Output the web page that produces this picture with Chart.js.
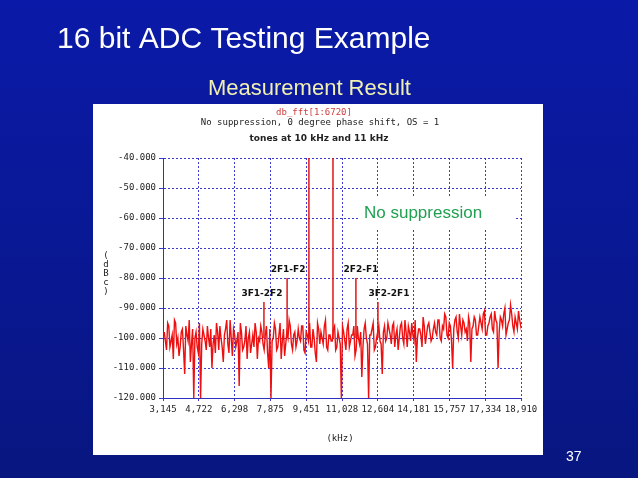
<!DOCTYPE html>
<html><head><meta charset="utf-8">
<script src="https://cdn.jsdelivr.net/npm/chart.js@4/dist/chart.umd.min.js"></script>
<style>html,body{margin:0;padding:0;background:#0a1a9a}#c{display:block}</style>
</head><body>
<div style="width:638px;height:478px"><canvas id="c" width="638" height="478"></canvas></div>
<script>
// noise floor, one value per 0.1 kHz from 3.2 kHz
var noiseStart = 3.2, noiseStep = 0.1;
var noise = [
 -98,-104,-96,-101,-107,-95,-100,-103,-97,-112,-99,-94,-102,-120,-98,-105,-120,-97,-101,
 -96,-103,-110,-99,-95,-104,-100,-108,-97,-102,-94,-106,-99,-101,-116,-98,-103,-96,-100,-105,
 -99,-95,-107,-101,-98,-104,-96,-110,-120,-100,-97,-103,-95,-101,-106,-98,-94,-102,-99,-103,
 -97,-101,-96,-105,-99,-95,-103,-100,-108,-97,-98,-102,-94,-104,-99,-101,-96,-103,-100,-120,
 -98,-104,-95,-101,-99,-106,-96,-102,-113,-97,-100,-120,-99,-95,-103,-98,-101,-112,-96,-100,
 -97,-102,-95,-99,-104,-96,-100,-94,-103,-98,-95,-101,-108,-97,-99,-93,-102,-96,-98,-100,
 -95,-99,-94,-101,-97,-93,-100,-96,-110,-94,-98,-92,-99,-95,-97,-93,-108,-96,-94,-99,
 -93,-97,-91,-99,-95,-92,-98,-94,-110,-93,-96,-90,-97,-94,-92,-98,-95,-91,-96
];
// second noise pass, offset half a step
var noise2 = [
 -101,-95,-103,-99,-94,-102,-106,-98,-104,-96,-101,-108,-97,-100,-103,-95,-102,-99,-104,
 -100,-97,-102,-105,-98,-96,-103,-99,-94,-105,-100,-97,-103,-98,-95,-104,-101,-107,-98,-102,
 -103,-98,-100,-96,-102,-99,-105,-97,-101,-95,-104,-99,-107,-97,-102,-100,-96,-104,-98,-101,
 -100,-96,-104,-98,-101,-103,-97,-105,-95,-102,-100,-96,-103,-99,-101,-97,-104,-98,-102,-96,
 -101,-97,-103,-99,-96,-104,-100,-98,-103,-95,-102,-99,-97,-104,-100,-96,-102,-98,-101,-95,
 -99,-96,-103,-97,-100,-95,-102,-98,-96,-101,-99,-94,-100,-97,-103,-96,-99,-95,-101,-97,
 -98,-94,-100,-96,-92,-99,-95,-101,-97,-93,-100,-96,-94,-98,-101,-95,-97,-93,-99,-96,
 -95,-92,-99,-96,-93,-97,-91,-95,-98,-94,-92,-99,-95,-89,-96,-93,-97,-94,-98
];
// tones and intermod products (kHz on the plot scale, dBc)
var spikeFreq = [9.57, 10.63, 8.61, 11.64, 7.59, 12.61];
var spikeLevel = [-40, -40, -80, -80, -88, -88];
var spikeNames = ['', '', '2F1-F2', '2F2-F1', '3F1-2F2', '3F2-2F1'];
var labelShift = [0, 0, 1, 5, -2, 11];
var xTicks = [3.145, 4.722, 6.298, 7.875, 9.451, 11.028, 12.604, 14.181, 15.757, 17.334, 18.910];
var yTicks = [-40, -50, -60, -70, -80, -90, -100, -110, -120];

var noisePts = [];
noise.forEach(function(v, i) {
  noisePts.push({x: noiseStart + i * noiseStep, y: v});
  noisePts.push({x: noiseStart + (i + 0.5) * noiseStep, y: noise2[i]});
});
var spikePts = [];
spikeFreq.forEach(function(f, i) {
  spikePts.push({x: f, y: -100}, {x: f, y: spikeLevel[i]}, {x: f, y: null});
});

var slide = {
  id: 'slide',
  beforeDraw: function(chart) {
    var c = chart.ctx;
    var g = c.createLinearGradient(0, 0, 0, 478);
    g.addColorStop(0, '#0a1aa8'); g.addColorStop(1, '#081680');
    c.fillStyle = g; c.fillRect(0, 0, 638, 478);
    c.fillStyle = '#fff'; c.fillRect(93, 104, 450, 351);
    c.font = '30px "Liberation Sans", Arial'; c.fillStyle = '#fff'; c.textBaseline = 'middle';
    c.fillText('16 bit ADC Testing Example', 57, 40);
    c.font = '22px "Liberation Sans", Arial'; c.fillStyle = '#f0f0b0';
    c.fillText('Measurement Result', 208, 89);
    c.font = '14px "Liberation Sans", Arial'; c.fillStyle = '#fff';
    c.fillText('37', 566, 457);
    c.textAlign = 'center';
    c.font = '9px "DejaVu Sans Mono"'; c.fillStyle = '#d04040';
    c.fillText('db_fft[1:6720]', 314, 113);
    c.fillStyle = '#222';
    c.fillText('No suppression, 0 degree phase shift, OS = 1', 320, 123);
    c.font = 'bold 9px "DejaVu Sans"';
    c.fillText('tones at 10 kHz and 11 kHz', 319, 139);
    c.font = '9px "DejaVu Sans Mono"';
    c.fillText('(kHz)', 340, 439);
    ['(', 'd', 'B', 'c', ')'].forEach(function(ch, i) { c.fillText(ch, 106, 256 + i * 9); });
    c.textAlign = 'left';
  },
  afterDatasetsDraw: function(chart) {
    var c = chart.ctx, xs = chart.scales.x, ys = chart.scales.y;
    c.save();
    c.font = 'bold 9px "DejaVu Sans"'; c.fillStyle = '#111'; c.textAlign = 'center';
    spikeFreq.forEach(function(f, i) {
      if (!spikeNames[i]) return;
      c.fillText(spikeNames[i], xs.getPixelForValue(f) + labelShift[i], ys.getPixelForValue(spikeLevel[i]) - 8);
    });
    c.fillStyle = '#fff'; c.fillRect(358, 198, 158, 30);
    c.font = '17px "Liberation Sans", Arial'; c.fillStyle = '#20a050'; c.textAlign = 'left';
    c.fillText('No suppression', 364, 213);
    c.restore();
  }
};

new Chart(document.getElementById('c'), {
  type: 'line',
  data: {datasets: [
    {data: noisePts, borderColor: '#ee1010', borderWidth: 1.4, pointRadius: 0, tension: 0},
    {data: spikePts, borderColor: '#e01818', borderWidth: 1.5, pointRadius: 0, spanGaps: false}
  ]},
  options: {
    responsive: false, animation: false,
    layout: {padding: {left: 93, right: 117, top: 158, bottom: 60}},
    plugins: {legend: {display: false}, tooltip: {enabled: false}},
    scales: {
      x: {
        type: 'linear', min: 3.145, max: 18.91,
        afterBuildTicks: function(s) { s.ticks = xTicks.map(function(v) { return {value: v}; }); },
        afterFit: function(s) { s.height = 20; },
        ticks: {autoSkip: false, maxRotation: 0, color: '#222', font: {family: 'DejaVu Sans Mono', size: 9},
          callback: function(v) { return v.toFixed(3).replace('.', ','); }},
        grid: {color: '#3a3ad0', lineWidth: 1, tickLength: 3},
        border: {color: '#3030c0', dash: [2, 2]}
      },
      y: {
        min: -120, max: -40,
        afterBuildTicks: function(s) { s.ticks = yTicks.map(function(v) { return {value: v}; }); },
        afterFit: function(s) { s.width = 70; },
        ticks: {color: '#222', font: {family: 'DejaVu Sans Mono', size: 9},
          callback: function(v) { return v + '.000'; }},
        grid: {color: '#3a3ad0', lineWidth: 1, tickLength: 4},
        border: {color: '#3030c0', dash: [2, 2]}
      }
    }
  },
  plugins: [slide]
});
</script>
</body></html>
